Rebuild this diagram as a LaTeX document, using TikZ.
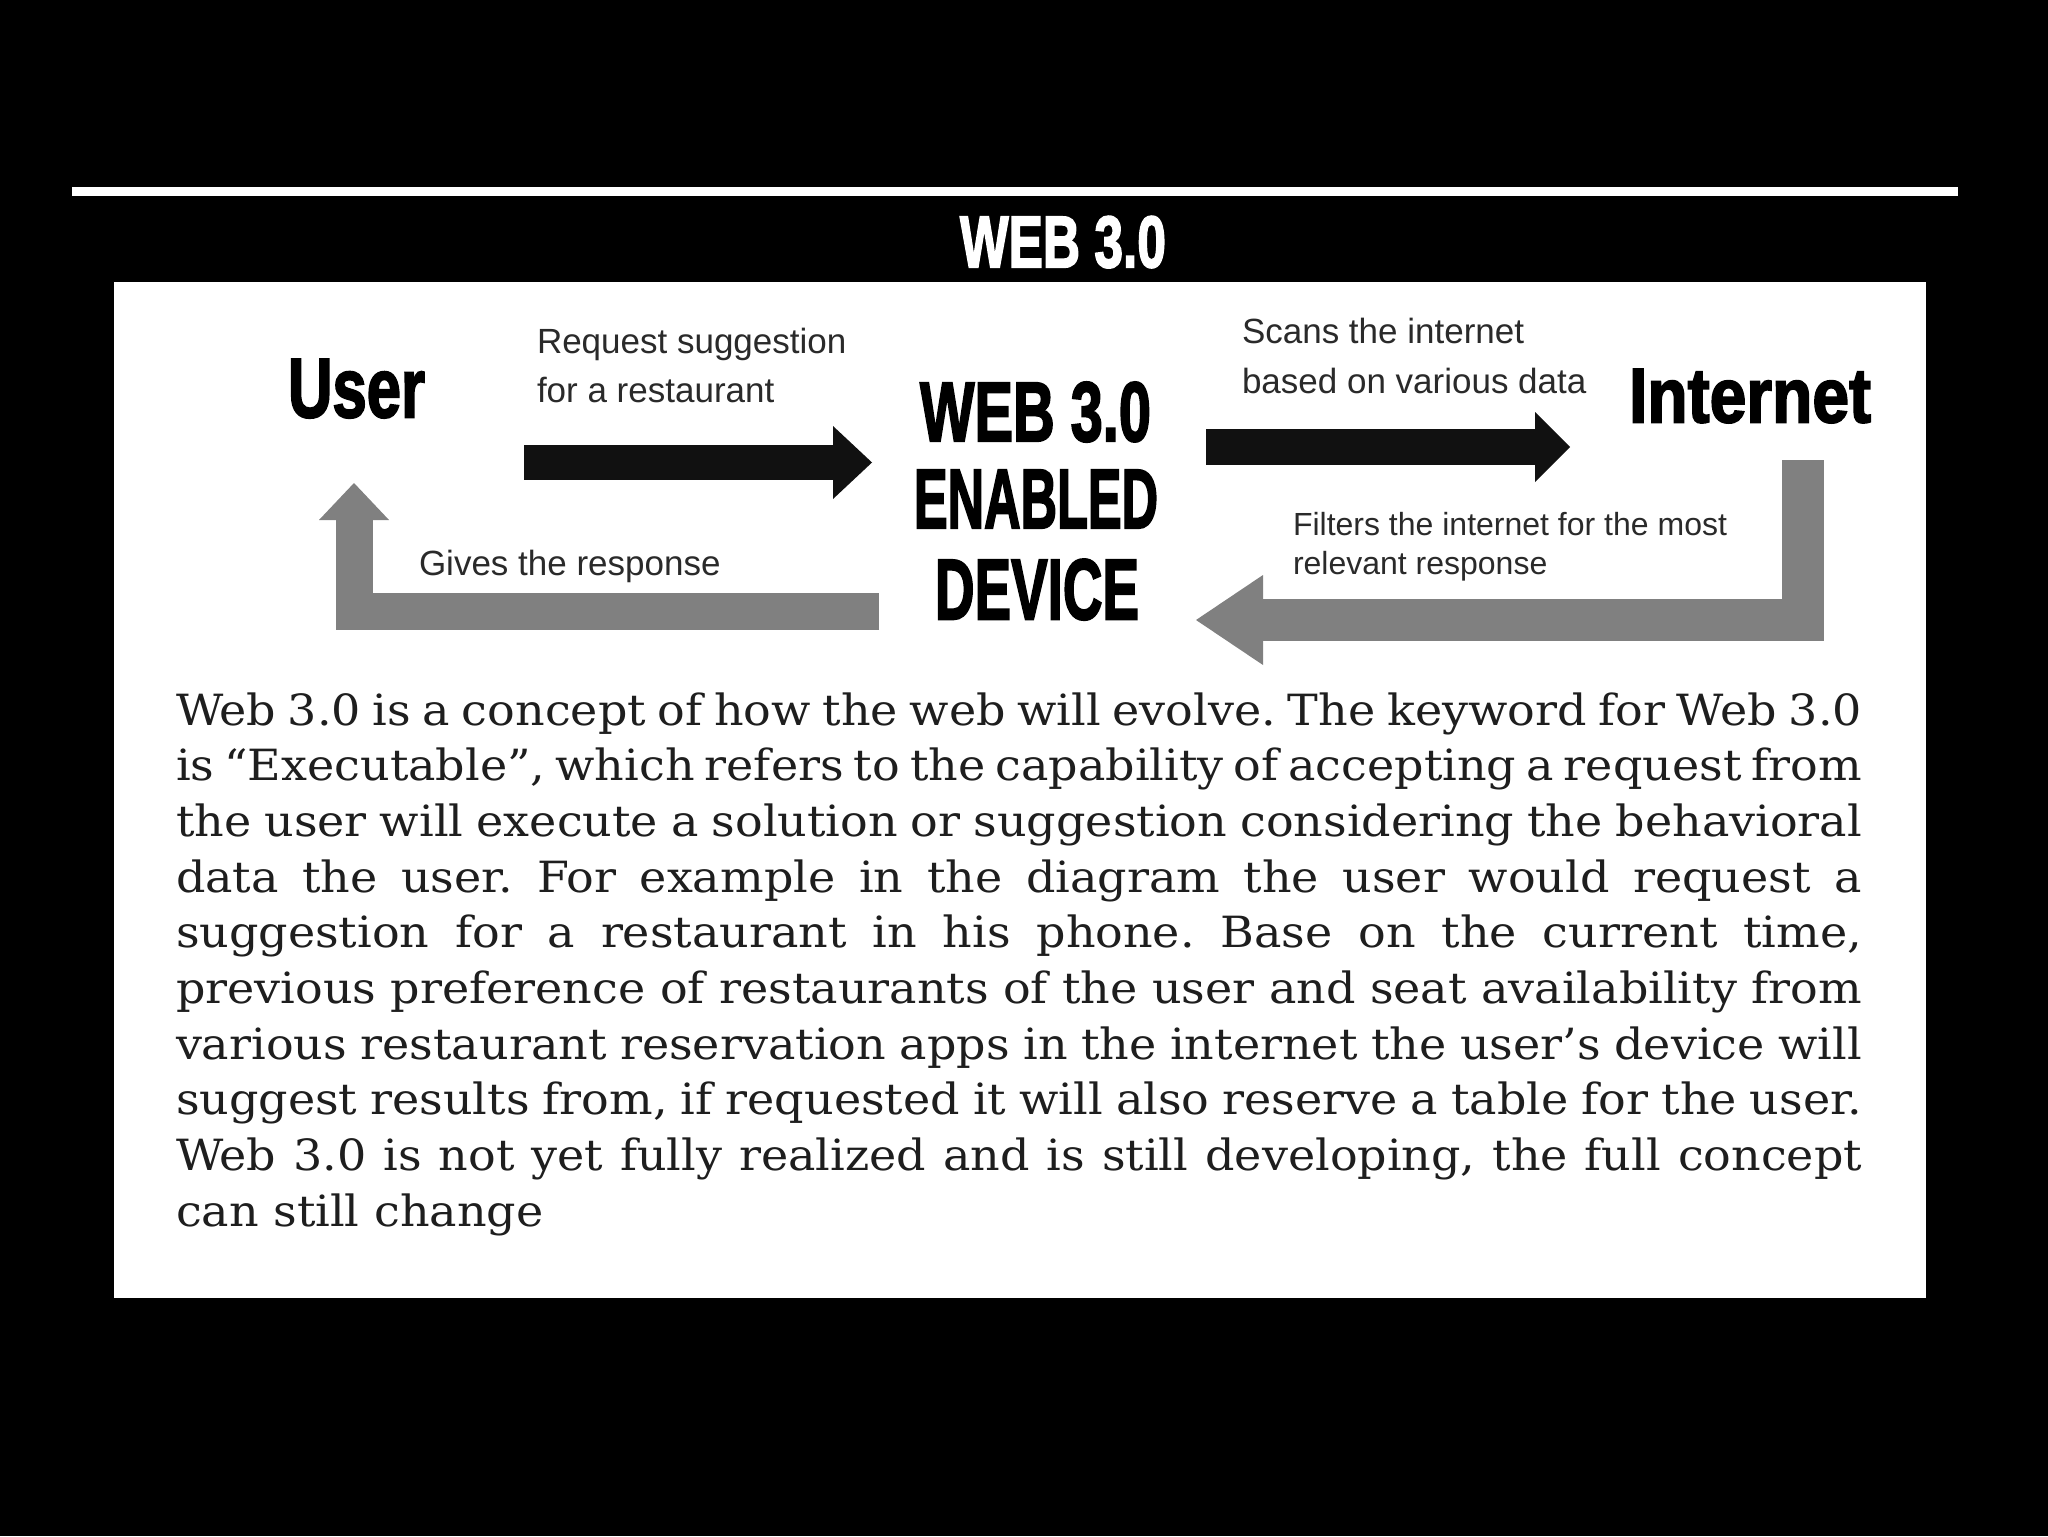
\documentclass[tikz,border=0pt]{standalone}
\usepackage{fontspec}
\usetikzlibrary{arrows.meta}
\newfontfamily\heavyfont[FakeBold=2.6]{Liberation Sans}
\newfontfamily\labelfont{Liberation Sans}
\newfontfamily\bodyfont[FakeStretch=1.07]{DejaVu Serif}
\frenchspacing
\definecolor{arrowblack}{HTML}{111111}
\definecolor{arrowgray}{HTML}{808080}
\definecolor{labelcol}{HTML}{2A2A2A}
\definecolor{bodycol}{HTML}{1E1E1E}
\newcommand\hv[3]{\resizebox{#1pt}{#2pt}{\heavyfont\bfseries #3}}
\newcommand\jline[1]{\makebox[843pt][s]{#1}}
\tikzset{
  heading/.style={anchor=south west, inner sep=0pt, outer sep=0pt},
  lbl/.style={anchor=base west, inner sep=0pt, outer sep=0pt, text=labelcol,
    font=\labelfont\fontsize{17.5}{21}\selectfont},
  lblsmall/.style={lbl, font=\labelfont\fontsize{16}{19}\selectfont},
  bodyline/.style={anchor=base west, inner sep=0pt, outer sep=0pt, text=bodycol,
    font=\bodyfont\fontsize{21.5}{26}\selectfont\frenchspacing},
  blackarrow/.style={draw=arrowblack, line join=miter, line cap=butt},
  grayarrow/.style={draw=arrowgray, line join=miter, line cap=butt},
}
\begin{document}
\begin{tikzpicture}[x=0.5pt, y=-0.5pt]
\useasboundingbox (0,0) rectangle (2048,1536);
\fill[black] (0,0) rectangle (2048,1536);
% top white rule and panel
\fill[white] (72,187) rectangle (1958,196);
\fill[white] (114,282) rectangle (1926,1298);
% title
\node[heading, text=white] (title) at (960,268) {\hv{103}{25.5}{WEB 3.0}};
% main words
\node[heading] (user) at (288,418) {\hv{68.5}{29}{User}};
\node[heading] (dev1) at (920,442) {\hv{115.5}{29.5}{WEB 3.0}};
\node[heading] (dev2) at (914,528) {\hv{122}{29}{ENABLED}};
\node[heading] (dev3) at (935,620) {\hv{102}{30}{DEVICE}};
\node[heading] (inet) at (1629,423) {\hv{121}{26.5}{Internet}};
% labels
\node[lbl] (req1) at (537,353) {Request suggestion};
\node[lbl] (req2) at (537,402) {for a restaurant};
\node[lbl] (scan1) at (1242,343) {Scans the internet};
\node[lbl] (scan2) at (1242,393) {based on various data};
\node[lblsmall] (filt1) at (1293,535) {Filters the internet for the most};
\node[lblsmall] (filt2) at (1293,574) {relevant response};
\node[lbl] (gives) at (419,575) {Gives the response};
% arrows
\coordinate (b1s) at (524,462.5);
\coordinate (b1e) at (872,462.5);
\draw[blackarrow, line width=17.5pt, -{Triangle[length=19.5pt,width=36.5pt,line width=0pt]}] (b1s) -- (b1e);
\coordinate (b2s) at (1206,447);
\coordinate (b2e) at (1570,447);
\draw[blackarrow, line width=18pt, -{Triangle[length=17.5pt,width=35pt,line width=0pt]}] (b2s) -- (b2e);
\coordinate (g1s) at (1803,460);
\coordinate (g1c) at (1803,620);
\coordinate (g1e) at (1196,620);
\draw[grayarrow, line width=21pt, -{Triangle[length=33.5pt,width=45pt,line width=0pt]}] (g1s) -- (g1c) -- (g1e);
\coordinate (g2s) at (879,611);
\coordinate (g2c) at (354,611);
\coordinate (g2e) at (354,483);
\draw[grayarrow, line width=18.5pt, -{Triangle[length=18.5pt,width=35pt,line width=0pt]}] (g2s) -- (g2c) -- (g2e);
% paragraph
\node[bodyline] (p1) at (176,725.0) {\jline{Web 3.0 is a concept of how the web will evolve. The keyword for Web 3.0}};
\node[bodyline] (p2) at (176,780.7) {\jline{is “Executable”, which refers to the capability of accepting a request from}};
\node[bodyline] (p3) at (176,836.4) {\jline{the user will execute a solution or suggestion considering the behavioral}};
\node[bodyline] (p4) at (176,892.1) {\jline{data the user. For example in the diagram the user would request a}};
\node[bodyline] (p5) at (176,947.8) {\jline{suggestion for a restaurant in his phone. Base on the current time,}};
\node[bodyline] (p6) at (176,1003.5) {\jline{previous preference of restaurants of the user and seat availability from}};
\node[bodyline] (p7) at (176,1059.2) {\jline{various restaurant reservation apps in the internet the user’s device will}};
\node[bodyline] (p8) at (176,1114.9) {\jline{suggest results from, if requested it will also reserve a table for the user.}};
\node[bodyline] (p9) at (176,1170.6) {\jline{Web 3.0 is not yet fully realized and is still developing, the full concept}};
\node[bodyline] (p10) at (176,1226.3) {can still change};
\end{tikzpicture}
\end{document}
